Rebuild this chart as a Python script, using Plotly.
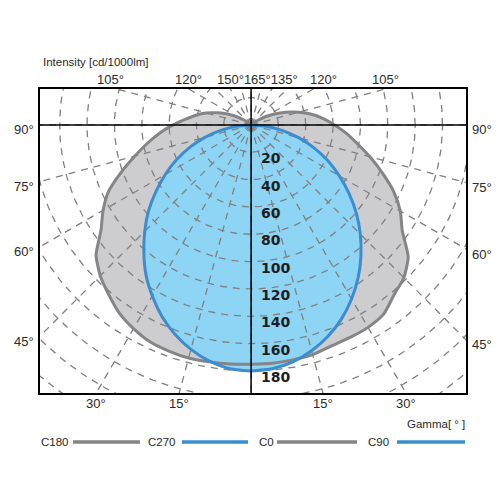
import numpy as np
import plotly.graph_objects as go

# luminous intensity distribution (cd/1000lm)
gamma = [0, 5, 10, 15, 20, 25, 30, 35, 40, 45, 50, 55, 60, 65, 70, 75, 80, 85, 90,
         95, 100, 105, 110, 115, 120, 125, 130, 140, 150, 160, 170, 180]
c0 = [175, 175, 174.5, 174, 172, 171.5, 171, 169, 162.5, 158, 150, 135, 126, 115, 102, 90, 79, 70, 61,
      53, 45, 36, 27, 19, 12, 6, 3, 2, 1, 1, 0.5, 0]
c180 = [175, 175.5, 176, 176.5, 176, 175, 172, 168, 162, 156, 148, 134, 125, 115, 101, 88, 77, 67, 57,
        48, 41, 34, 26, 19, 12, 6, 3, 2, 1, 1, 0.5, 0]
c90 = [180, 179, 176, 171, 164.5, 156.5, 147, 136.5, 125, 113, 100.5, 87.5, 74.5, 62, 49, 36, 23, 11, 0,
       0, 0, 0, 0, 0, 0, 0, 0, 0, 0, 0, 0, 0]
c270 = [180, 179, 175.5, 170, 163, 154.5, 144.5, 134, 122, 110, 98, 85, 72.5, 60, 47.5, 35, 22, 10, 0,
        0, 0, 0, 0, 0, 0, 0, 0, 0, 0, 0, 0, 0]

ring_labels = [20, 40, 60, 80, 100, 120, 140, 160, 180]
side_angles = [90, 75, 60, 45]
top_angles = [105, 120]
bottom_angles = [30, 15]
# small label nudges (px) for the top labels, left side then right side
top_nudge = {(-1, 105): -6, (-1, 120): 0, (1, 105): 0, (1, 120): 10}

GRAY_LINE = "#858585"
GRAY_FILL = "#cdcdd0"
BLUE_LINE = "#3b8dd0"
BLUE_FILL = "#8dd4f5"
GRID = "#808080"
TXT = "#2a2a2a"
FONT = "Liberation Sans, Arial, sans-serif"

# visible window in cd units (center of diagram at 0,0, downwards = gamma 0)
X0, X1, Y0, Y1 = -154.4, 157.2, -196.1, 26.3


def to_xy(g, vals, side):
    g = np.radians(np.array(g))
    v = np.array(vals, dtype=float)
    return side * v * np.sin(g), -v * np.cos(g)


def edge_hit(g, side):
    dx, dy = side * np.sin(np.radians(g)), -np.cos(np.radians(g))
    ts = []
    if dx > 1e-9:
        ts.append(X1 / dx)
    if dx < -1e-9:
        ts.append(X0 / dx)
    if dy > 1e-9:
        ts.append(Y1 / dy)
    if dy < -1e-9:
        ts.append(Y0 / dy)
    t = min(ts)
    return t * dx, t * dy


curves = [("C180", c180, -1, GRAY_LINE, GRAY_FILL),
          ("C0", c0, 1, GRAY_LINE, GRAY_FILL),
          ("C270", c270, -1, BLUE_LINE, BLUE_FILL),
          ("C90", c90, 1, BLUE_LINE, BLUE_FILL)]

fig = go.Figure()

# filled areas
for name, vals, side, lc, fc in curves:
    x, y = to_xy(gamma, vals, side)
    fig.add_trace(go.Scatter(x=x, y=y, mode="lines", fill="toself", fillcolor=fc,
                             line=dict(width=0, color=fc, shape="spline", smoothing=0.6),
                             hoverinfo="skip"))

# dashed polar grid
th = np.linspace(0, 2 * np.pi, 361)
gx, gy = [], []
for r in range(20, 280, 20):
    gx += list(r * np.cos(th)) + [None]
    gy += list(r * np.sin(th)) + [None]
for a in range(0, 360, 15):
    gx += [0, 320 * np.sin(np.radians(a)), None]
    gy += [0, -320 * np.cos(np.radians(a)), None]
fig.add_trace(go.Scatter(x=gx, y=gy, mode="lines", hoverinfo="skip",
                         line=dict(color=GRID, width=1.3, dash="7px,6px")))

# outlines
for name, vals, side, lc, fc in curves:
    x, y = to_xy(gamma, vals, side)
    fig.add_trace(go.Scatter(x=x, y=y, mode="lines", name=name, hoverinfo="skip",
                             line=dict(color=lc, width=3, shape="spline", smoothing=0.6)))

fig.add_vline(x=0, line_color="black", line_width=1.5)
fig.add_hline(y=0, line_color="black", line_width=1.5)

ann = []
for r in ring_labels:
    ann.append(dict(x=0, y=-r, text=f"<b>{r}</b>", xanchor="left", yanchor="middle",
                    xshift=8, yshift=-6, showarrow=False,
                    font=dict(family="DejaVu Sans, sans-serif", size=14, color="#1e1e1e")))
for side in (-1, 1):
    for g in side_angles:
        x, y = edge_hit(g, side)
        ann.append(dict(x=x, y=y, text=f"{g}°", showarrow=False, yshift=-5,
                        xanchor="right" if side < 0 else "left",
                        xshift=-4 if side < 0 else 4,
                        font=dict(family=FONT, size=13, color=TXT)))
    for g in top_angles:
        x, y = edge_hit(g, side)
        ann.append(dict(x=x, y=y, text=f"{g}°", showarrow=False, yshift=10,
                        xshift=top_nudge[(side, g)],
                        font=dict(family=FONT, size=13, color=TXT)))
    for g in bottom_angles:
        x, y = edge_hit(g, side)
        ann.append(dict(x=x, y=y, text=f"{g}°", showarrow=False, yshift=-10,
                        font=dict(family=FONT, size=13, color=TXT)))
ann.append(dict(x=0, y=Y1, text="150°165°135°", showarrow=False, yshift=10, xshift=6,
                font=dict(family=FONT, size=13, color=TXT)))


# page pixel -> paper (plot area spans page px 40..466 x 89..393)
def px_x(p):
    return (p - 40) / 426


def px_y(p):
    return (393 - p) / 304


ann.append(dict(x=px_x(41), y=px_y(62), xref="paper", yref="paper", text="Intensity [cd/1000lm]",
                xanchor="left", yanchor="middle", showarrow=False,
                font=dict(family=FONT, size=11.5, color=TXT)))
ann.append(dict(x=px_x(467), y=px_y(424), xref="paper", yref="paper", text="Gamma[ ° ]",
                xanchor="right", yanchor="middle", showarrow=False,
                font=dict(family=FONT, size=11.5, color=TXT)))

# legend drawn as text followed by a line swatch
legend_text_x = [39, 146, 257, 366]
legend_line_x = [(73, 140), (182, 248), (277, 357), (397, 465)]
legend_order = ["C180", "C270", "C0", "C90"]
legend_col = {"C180": GRAY_LINE, "C0": GRAY_LINE, "C270": BLUE_LINE, "C90": BLUE_LINE}
shapes = []
for name, tx, (la, lb) in zip(legend_order, legend_text_x, legend_line_x):
    ann.append(dict(x=px_x(tx), y=px_y(442), xref="paper", yref="paper", text=name,
                    xanchor="left", yanchor="middle", showarrow=False,
                    font=dict(family=FONT, size=11.5, color=TXT)))
    shapes.append(dict(type="line", xref="paper", yref="paper", x0=px_x(la), x1=px_x(lb),
                       y0=px_y(442), y1=px_y(442), line=dict(color=legend_col[name], width=3.5)))

# the page adds an 8px body margin, so the figure is 492px and margins are shifted
fig.update_layout(
    width=492, height=492,
    margin=dict(l=32, r=34, t=81, b=107),
    paper_bgcolor="white", plot_bgcolor="white",
    showlegend=False,
    annotations=ann,
    shapes=list(fig.layout.shapes) + shapes,
)
fig.update_xaxes(range=[X0, X1], showgrid=False, zeroline=False, showticklabels=False,
                 showline=True, mirror=True, linecolor="black", linewidth=1.5, ticks="")
fig.update_yaxes(range=[Y0, Y1], showgrid=False, zeroline=False, showticklabels=False,
                 showline=True, mirror=True, linecolor="black", linewidth=1.5, ticks="")

fig.write_html("out.html")
